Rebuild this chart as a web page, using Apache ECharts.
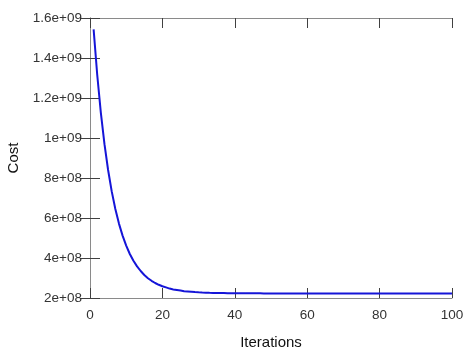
<!DOCTYPE html>
<html>
<head>
<meta charset="utf-8">
<script src="https://cdn.jsdelivr.net/npm/echarts@6/dist/echarts.min.js"></script>
<style>html,body{margin:0;padding:0;background:#fff}#c{width:474px;height:355px}</style>
</head>
<body>
<div id="c"></div>
<script>
const iterations = [];
for (let i = 1; i <= 100; i++) iterations.push(i);
const cost = [
  1.543e9, 1.315e9, 1.126e9, 0.969e9, 0.840e9, 0.733e9, 0.645e9, 0.572e9, 0.512e9, 0.462e9,
  0.420e9, 0.386e9, 0.358e9, 0.335e9, 0.315e9, 0.299e9, 0.286e9, 0.275e9, 0.266e9, 0.259e9,
  0.253e9, 0.247e9, 0.243e9, 0.240e9, 0.237e9, 0.234e9, 0.2325e9, 0.231e9, 0.2295e9, 0.2283e9,
  0.2274e9, 0.2267e9, 0.226e9, 0.2255e9, 0.2251e9, 0.2247e9, 0.2244e9, 0.2241e9, 0.2239e9, 0.2237e9,
  0.2236e9, 0.2235e9, 0.2234e9, 0.2233e9, 0.2233e9, 0.2232e9, 0.2232e9, 0.2231e9, 0.2231e9, 0.2231e9,
  0.223e9, 0.223e9, 0.223e9, 0.223e9, 0.223e9, 0.223e9, 0.223e9, 0.223e9, 0.223e9, 0.223e9,
  0.223e9, 0.223e9, 0.223e9, 0.223e9, 0.223e9, 0.223e9, 0.223e9, 0.223e9, 0.223e9, 0.223e9,
  0.223e9, 0.223e9, 0.223e9, 0.223e9, 0.223e9, 0.223e9, 0.223e9, 0.223e9, 0.223e9, 0.223e9,
  0.223e9, 0.223e9, 0.223e9, 0.223e9, 0.223e9, 0.223e9, 0.223e9, 0.223e9, 0.223e9, 0.223e9,
  0.223e9, 0.223e9, 0.223e9, 0.223e9, 0.223e9, 0.223e9, 0.223e9, 0.223e9, 0.223e9, 0.223e9
];
const xTicks = ['0', '20', '40', '60', '80', '100'];
const yTicks = ['2e+08', '4e+08', '6e+08', '8e+08', '1e+09', '1.2e+09', '1.4e+09', '1.6e+09'];
const xName = 'Iterations';
const yName = 'Cost';

const font = 'Liberation Sans, Arial, sans-serif';
const lineCol = '#8a8a8a';
const tickCol = '#404040';
const labelCol = '#333';

function yFmt(v) {
  const idx = Math.round((v - 2e8) / 2e8);
  return yTicks[idx] !== undefined ? yTicks[idx] : '';
}
function xFmt(v) {
  const idx = Math.round(v / 20);
  return xTicks[idx] !== undefined ? xTicks[idx] : '';
}

const chart = echarts.init(document.getElementById('c'), null, {renderer: 'canvas'});
const baseAxis = {
  axisLine: {show: true, lineStyle: {color: lineCol, width: 1}},
  axisTick: {show: true, inside: true, length: 10, lineStyle: {color: tickCol, width: 1}},
  splitLine: {show: false}
};
chart.setOption({
  animation: false,
  backgroundColor: '#fff',
  grid: {left: 90, right: 22, top: 18, bottom: 57, containLabel: false, outerBoundsMode: 'none'},
  xAxis: [
    Object.assign({}, baseAxis, {
      type: 'value', min: 0, max: 100, interval: 20, position: 'bottom',
      name: xName, nameLocation: 'middle', nameGap: 37,
      nameTextStyle: {fontFamily: font, fontSize: 15, color: '#111'},
      axisLabel: {formatter: xFmt, fontFamily: font, fontSize: 13.5, color: labelCol, margin: 10}
    }),
    Object.assign({}, baseAxis, {
      type: 'value', min: 0, max: 100, interval: 20, position: 'top',
      axisLabel: {show: false}
    })
  ],
  yAxis: [
    Object.assign({}, baseAxis, {
      type: 'value', min: 2e8, max: 1.6e9, interval: 2e8, position: 'left',
      name: yName, nameLocation: 'middle', nameGap: 69,
      nameTextStyle: {fontFamily: font, fontSize: 15, color: '#111'},
      axisLabel: {formatter: yFmt, fontFamily: font, fontSize: 13.5, color: labelCol, margin: 8}
    }),
    Object.assign({}, baseAxis, {
      type: 'value', min: 2e8, max: 1.6e9, interval: 2e8, position: 'right',
      axisLabel: {show: false}
    })
  ],
  series: [{
    type: 'line',
    xAxisIndex: 0, yAxisIndex: 0,
    data: iterations.map((x, i) => [x, cost[i]]),
    showSymbol: false,
    smooth: false,
    lineStyle: {color: '#1515d8', width: 2},
    clip: true
  }]
});
</script>
</body>
</html>
